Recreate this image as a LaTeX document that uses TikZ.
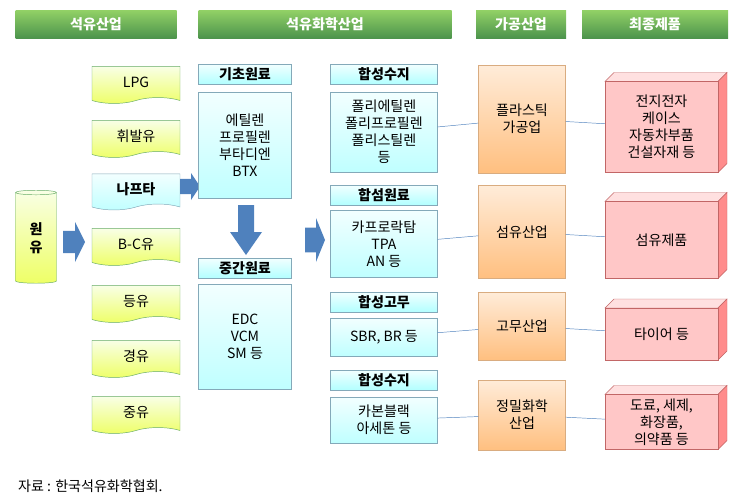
\documentclass[tikz,border=0pt]{standalone}
\usepackage{fontspec}
\setmainfont{Noto Sans CJK KR}
\usetikzlibrary{shapes.symbols,shapes.geometric,arrows.meta}

\def\u{0.03cm}
% right arrow in box (x0,y0)-(x1,y1)
\newcommand{\rarrow}[4]{\fill[arrowblue] (#1,{#2+(#4-#2)*0.22}) -- ({#1+(#3-#1)*0.55},{#2+(#4-#2)*0.22}) -- ({#1+(#3-#1)*0.55},#2) -- (#3,{(#2+#4)/2}) -- ({#1+(#3-#1)*0.55},#4) -- ({#1+(#3-#1)*0.55},{#4-(#4-#2)*0.22}) -- (#1,{#4-(#4-#2)*0.22}) -- cycle;}

\begin{document}
\begin{tikzpicture}[x=0.03cm,y=-0.03cm]

\definecolor{arrowblue}{RGB}{79,129,189}
\tikzstyle{head_green} = [draw=none, top color=green!45!lime!70!black!60, bottom color=green!40!black!70, text=white, font=\fontsize{12}{14}\selectfont\bfseries, inner sep=0pt]
\tikzstyle{doc_green} = [tape, tape bend top=none, draw=green!45!black!60, top color=white!90!lime, bottom color=lime!45!yellow!60, font=\fontsize{12}{14}\selectfont, inner sep=0pt]
\tikzstyle{doc_blue} = [tape, tape bend top=none, draw=cyan!50!black!60, top color=cyan!5, bottom color=cyan!25, font=\fontsize{12}{14}\selectfont\bfseries, inner sep=0pt]
\tikzstyle{head_blue} = [draw=cyan!50!black!60, top color=cyan!5, bottom color=cyan!30, font=\fontsize{12}{14}\selectfont\bfseries, inner sep=0pt]
\tikzstyle{box_blue} = [draw=cyan!50!black!60, top color=cyan!5, bottom color=cyan!25, font=\fontsize{12}{14.5}\selectfont, align=center, inner sep=0pt]
\tikzstyle{box_orange} = [draw=orange!70!black!50, top color=orange!15, bottom color=orange!50, font=\fontsize{12}{14.5}\selectfont, align=center, inner sep=0pt]
\tikzstyle{box_red} = [draw=red!60!black!60, fill=red!22, font=\fontsize{12}{14.5}\selectfont, align=center, inner sep=0pt]
\tikzstyle{edge} = [draw=arrowblue]

\useasboundingbox (0,0) rectangle (743,503);

%------------------------------------------------------------
	\node[head_green, minimum width=161*\u, minimum height=28*\u] (h1) at (96,24) {석유산업};
	\node[head_green, minimum width=253*\u, minimum height=28*\u] (h2) at (325,24) {석유화학산업};
	\node[head_green, minimum width=90*\u, minimum height=28*\u]  (h3) at (521,24) {가공산업};
	\node[head_green, minimum width=146*\u, minimum height=28*\u] (h4) at (655,24) {최종제품};

%------------------------------------------------------------
	\node[doc_green, minimum width=88*\u, minimum height=37*\u] (lpg)  at (136,82)  {LPG};
	\node[doc_green, minimum width=88*\u, minimum height=37*\u] (gas)  at (136,136) {휘발유};
	\node[doc_blue,  minimum width=88*\u, minimum height=36*\u] (nap)  at (136,189) {나프타};
	\node[doc_green, minimum width=88*\u, minimum height=37*\u] (bc)   at (136,244) {B-C유};
	\node[doc_green, minimum width=88*\u, minimum height=37*\u] (kero) at (136,301) {등유};
	\node[doc_green, minimum width=88*\u, minimum height=37*\u] (dsl)  at (136,356) {경유};
	\node[doc_green, minimum width=88*\u, minimum height=37*\u] (heavy) at (136,412) {중유};

	\node[cylinder, shape border rotate=90, aspect=0.35, draw=green!45!black!60, top color=white!90!lime, bottom color=lime!45!yellow!60, minimum width=41*\u, minimum height=93*\u, font=\fontsize{12}{15}\selectfont\bfseries, align=center, inner sep=0pt] (crude) at (36,238) {원\\유};

	\rarrow{63}{222}{85}{262}
	\rarrow{180}{173}{200}{200}
	\rarrow{305}{218}{325}{262}
	\fill[arrowblue] (238,205) -- (254,205) -- (254,232) -- (262,232) -- (246,255) -- (230,232) -- (238,232) -- cycle;

%------------------------------------------------------------
	\node[head_blue, minimum width=93*\u, minimum height=20*\u] (base_h) at (245,74) {기초원료};
	\node[box_blue, minimum width=93*\u, minimum height=106*\u] (base) at (245,145) {에틸렌\\프로필렌\\부타디엔\\BTX};
	\node[head_blue, minimum width=93*\u, minimum height=20*\u] (mid_h) at (245,268) {중간원료};
	\node[box_blue, minimum width=93*\u, minimum height=105*\u] (mid) at (245,337) {EDC\\VCM\\SM 등};

%------------------------------------------------------------
	\node[head_blue, minimum width=107*\u, minimum height=20*\u] (r1_h) at (384,74)  {합성수지};
	\node[box_blue,  minimum width=107*\u, minimum height=80*\u] (r1)   at (384,132) {폴리에틸렌\\폴리프로필렌\\폴리스틸렌\\등};
	\node[head_blue, minimum width=107*\u, minimum height=20*\u] (r2_h) at (384,195) {합섬원료};
	\node[box_blue,  minimum width=107*\u, minimum height=67*\u] (r2)   at (384,244) {카프로락탐\\TPA\\AN 등};
	\node[head_blue, minimum width=107*\u, minimum height=20*\u] (r3_h) at (384,302) {합성고무};
	\node[box_blue,  minimum width=107*\u, minimum height=38*\u] (r3)   at (384,337) {SBR, BR 등};
	\node[head_blue, minimum width=107*\u, minimum height=20*\u] (r4_h) at (384,380) {합성수지};
	\node[box_blue,  minimum width=107*\u, minimum height=46*\u] (r4)   at (384,420) {카본블랙\\아세톤 등};

%------------------------------------------------------------
	\node[box_orange, minimum width=87*\u, minimum height=108*\u] (p1) at (522,119) {플라스틱\\가공업};
	\node[box_orange, minimum width=87*\u, minimum height=93*\u]  (p2) at (522,232) {섬유산업};
	\node[box_orange, minimum width=87*\u, minimum height=68*\u]  (p3) at (522,326) {고무산업};
	\node[box_orange, minimum width=87*\u, minimum height=70*\u]  (p4) at (522,415) {정밀화학\\산업};

	\foreach \n/\y/\h/\t in {f1/127/91/{전지전자\\케이스\\자동차부품\\건설자재 등}, f2/240/77/섬유제품, f3/334/52/타이어 등, f4/422/55/{도료, 세제,\\화장품,\\의약품 등}} {
		\fill[red!12, draw=red!60!black!60] (605,\y-\h/2) -- ++(9,-9) -- ++(113,0) -- ++(-9,9) -- cycle;
		\fill[red!45, draw=red!60!black!60] (718,\y-\h/2) -- ++(9,-9) -- ++(0,\h) -- ++(-9,9) -- cycle;
		\node[box_red, minimum width=113*\u, minimum height=\h*\u] (\n) at (661.5,\y) {\t};
	}

	\path[edge] (r1) -- (p1) -- (f1);
	\path[edge] (r2) -- (p2) -- (f2);
	\path[edge] (r3) -- (p3) -- (f3);
	\path[edge] (r4) -- (p4) -- (f4);

	\node[anchor=west, font=\fontsize{12}{14}\selectfont] (src) at (14,486) {자료 : 한국석유화학협회.};

\end{tikzpicture}
\end{document}
